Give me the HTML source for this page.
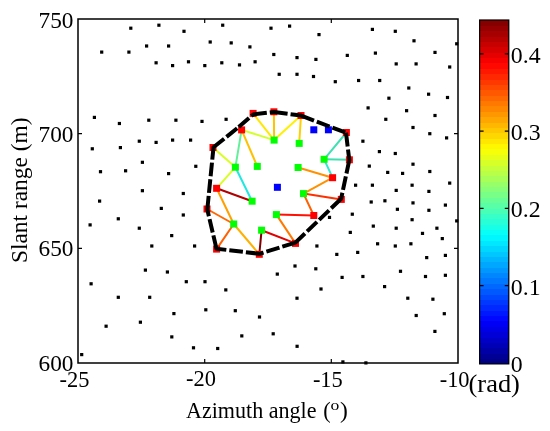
<!DOCTYPE html>
<html><head><meta charset="utf-8"><title>plot</title>
<style>
html,body{margin:0;padding:0;background:#fff;}
svg{display:block}
text{font-family:"Liberation Serif",serif;fill:#000}
</style></head><body>
<svg width="550" height="431" viewBox="0 0 550 431">
<rect x="0" y="0" width="550" height="431" fill="#fff"/>

<g shape-rendering="crispEdges">
<rect x="479.6" y="358.53" width="29.2" height="5.87" fill="#000087"/>
<rect x="479.6" y="353.15" width="29.2" height="5.87" fill="#000097"/>
<rect x="479.6" y="347.78" width="29.2" height="5.87" fill="#0000a7"/>
<rect x="479.6" y="342.41" width="29.2" height="5.87" fill="#0000b7"/>
<rect x="479.6" y="337.03" width="29.2" height="5.87" fill="#0000c7"/>
<rect x="479.6" y="331.66" width="29.2" height="5.87" fill="#0000d7"/>
<rect x="479.6" y="326.29" width="29.2" height="5.87" fill="#0000e7"/>
<rect x="479.6" y="320.91" width="29.2" height="5.87" fill="#0000f7"/>
<rect x="479.6" y="315.54" width="29.2" height="5.87" fill="#0008ff"/>
<rect x="479.6" y="310.17" width="29.2" height="5.87" fill="#0018ff"/>
<rect x="479.6" y="304.79" width="29.2" height="5.87" fill="#0028ff"/>
<rect x="479.6" y="299.42" width="29.2" height="5.87" fill="#0038ff"/>
<rect x="479.6" y="294.05" width="29.2" height="5.87" fill="#0048ff"/>
<rect x="479.6" y="288.67" width="29.2" height="5.87" fill="#0058ff"/>
<rect x="479.6" y="283.30" width="29.2" height="5.87" fill="#0068ff"/>
<rect x="479.6" y="277.92" width="29.2" height="5.87" fill="#0078ff"/>
<rect x="479.6" y="272.55" width="29.2" height="5.87" fill="#0087ff"/>
<rect x="479.6" y="267.18" width="29.2" height="5.87" fill="#0097ff"/>
<rect x="479.6" y="261.80" width="29.2" height="5.87" fill="#00a7ff"/>
<rect x="479.6" y="256.43" width="29.2" height="5.87" fill="#00b7ff"/>
<rect x="479.6" y="251.06" width="29.2" height="5.87" fill="#00c7ff"/>
<rect x="479.6" y="245.68" width="29.2" height="5.87" fill="#00d7ff"/>
<rect x="479.6" y="240.31" width="29.2" height="5.87" fill="#00e7ff"/>
<rect x="479.6" y="234.94" width="29.2" height="5.87" fill="#00f7ff"/>
<rect x="479.6" y="229.56" width="29.2" height="5.87" fill="#08fff7"/>
<rect x="479.6" y="224.19" width="29.2" height="5.87" fill="#18ffe7"/>
<rect x="479.6" y="218.82" width="29.2" height="5.87" fill="#28ffd7"/>
<rect x="479.6" y="213.44" width="29.2" height="5.87" fill="#38ffc7"/>
<rect x="479.6" y="208.07" width="29.2" height="5.87" fill="#48ffb7"/>
<rect x="479.6" y="202.70" width="29.2" height="5.87" fill="#58ffa7"/>
<rect x="479.6" y="197.32" width="29.2" height="5.87" fill="#68ff97"/>
<rect x="479.6" y="191.95" width="29.2" height="5.87" fill="#78ff87"/>
<rect x="479.6" y="186.58" width="29.2" height="5.87" fill="#87ff78"/>
<rect x="479.6" y="181.20" width="29.2" height="5.87" fill="#97ff68"/>
<rect x="479.6" y="175.83" width="29.2" height="5.87" fill="#a7ff58"/>
<rect x="479.6" y="170.46" width="29.2" height="5.87" fill="#b7ff48"/>
<rect x="479.6" y="165.08" width="29.2" height="5.87" fill="#c7ff38"/>
<rect x="479.6" y="159.71" width="29.2" height="5.87" fill="#d7ff28"/>
<rect x="479.6" y="154.34" width="29.2" height="5.87" fill="#e7ff18"/>
<rect x="479.6" y="148.96" width="29.2" height="5.87" fill="#f7ff08"/>
<rect x="479.6" y="143.59" width="29.2" height="5.87" fill="#fff700"/>
<rect x="479.6" y="138.22" width="29.2" height="5.87" fill="#ffe700"/>
<rect x="479.6" y="132.84" width="29.2" height="5.87" fill="#ffd700"/>
<rect x="479.6" y="127.47" width="29.2" height="5.87" fill="#ffc700"/>
<rect x="479.6" y="122.10" width="29.2" height="5.87" fill="#ffb700"/>
<rect x="479.6" y="116.72" width="29.2" height="5.87" fill="#ffa700"/>
<rect x="479.6" y="111.35" width="29.2" height="5.87" fill="#ff9700"/>
<rect x="479.6" y="105.98" width="29.2" height="5.87" fill="#ff8700"/>
<rect x="479.6" y="100.60" width="29.2" height="5.87" fill="#ff7800"/>
<rect x="479.6" y="95.23" width="29.2" height="5.87" fill="#ff6800"/>
<rect x="479.6" y="89.85" width="29.2" height="5.87" fill="#ff5800"/>
<rect x="479.6" y="84.48" width="29.2" height="5.87" fill="#ff4800"/>
<rect x="479.6" y="79.11" width="29.2" height="5.87" fill="#ff3800"/>
<rect x="479.6" y="73.73" width="29.2" height="5.87" fill="#ff2800"/>
<rect x="479.6" y="68.36" width="29.2" height="5.87" fill="#ff1800"/>
<rect x="479.6" y="62.99" width="29.2" height="5.87" fill="#ff0800"/>
<rect x="479.6" y="57.61" width="29.2" height="5.87" fill="#f70000"/>
<rect x="479.6" y="52.24" width="29.2" height="5.87" fill="#e70000"/>
<rect x="479.6" y="46.87" width="29.2" height="5.87" fill="#d70000"/>
<rect x="479.6" y="41.49" width="29.2" height="5.87" fill="#c70000"/>
<rect x="479.6" y="36.12" width="29.2" height="5.87" fill="#b70000"/>
<rect x="479.6" y="30.75" width="29.2" height="5.87" fill="#a70000"/>
<rect x="479.6" y="25.37" width="29.2" height="5.87" fill="#970000"/>
<rect x="479.6" y="20.00" width="29.2" height="5.87" fill="#870000"/>
</g>
<rect x="479.6" y="20.0" width="29.2" height="343.9" fill="none" stroke="#000" stroke-width="1.2"/>
<path d="M479.6 285.7h4M508.8 285.7h-4" stroke="#000" stroke-width="1.2"/>
<path d="M479.6 208.4h4M508.8 208.4h-4" stroke="#000" stroke-width="1.2"/>
<path d="M479.6 131.1h4M508.8 131.1h-4" stroke="#000" stroke-width="1.2"/>
<path d="M479.6 53.8h4M508.8 53.8h-4" stroke="#000" stroke-width="1.2"/>
<rect x="78.0" y="19.0" width="380.0" height="344.0" fill="none" stroke="#000" stroke-width="1.5"/>
<path d="M204.7 363.0v-4M204.7 19.0v4" stroke="#000" stroke-width="1.2"/>
<path d="M331.3 363.0v-4M331.3 19.0v4" stroke="#000" stroke-width="1.2"/>
<path d="M78.0 133.7h4M458.0 133.7h-4" stroke="#000" stroke-width="1.2"/>
<path d="M78.0 248.3h4M458.0 248.3h-4" stroke="#000" stroke-width="1.2"/>
<text transform="translate(38.58,27.74) scale(1.0130,1)" font-size="23.00">750</text>
<text transform="translate(38.58,141.90) scale(1.0130,1)" font-size="23.00">700</text>
<text transform="translate(38.58,255.84) scale(1.0130,1)" font-size="23.00">650</text>
<text transform="translate(38.58,370.64) scale(1.0130,1)" font-size="23.00">600</text>
<text transform="translate(59.58,386.54) scale(0.9650,1)" font-size="23.25">-25</text>
<text transform="translate(186.08,386.42) scale(0.9650,1)" font-size="23.25">-20</text>
<text transform="translate(312.88,386.66) scale(0.9650,1)" font-size="23.25">-15</text>
<text transform="translate(439.68,386.54) scale(0.9650,1)" font-size="23.25">-10</text>
<text transform="translate(510.85,371.86) scale(1.0400,1)" font-size="22.90">0</text>
<text transform="translate(510.85,294.73) scale(1.0400,1)" font-size="22.90">0.1</text>
<text transform="translate(510.85,217.36) scale(1.0400,1)" font-size="22.90">0.2</text>
<text transform="translate(510.85,140.11) scale(1.0400,1)" font-size="22.90">0.3</text>
<text transform="translate(510.85,62.86) scale(1.0400,1)" font-size="22.90">0.4</text>
<text transform="translate(468.54,392.32) scale(1.0130,1)" font-size="26.11">(rad)</text>
<text transform="translate(185.98,417.90) scale(0.9462,1)" font-size="23.33">Azimuth angle</text>
<text transform="translate(323.31,418.09) scale(0.9746,1)" font-size="22.89">(</text>
<text transform="translate(330.60,410.15) scale(1.1429,1)" font-size="15.42">o</text>
<text transform="translate(339.90,418.09) scale(1.0250,1)" font-size="22.89">)</text>
<text transform="translate(26.98,263.04) rotate(-90) scale(0.9990,1)" font-size="23.44">Slant range (m)</text>
<g fill="#000">
<rect x="129.2" y="26.6" width="3.2" height="3.2"/>
<rect x="157.3" y="23.6" width="3.2" height="3.2"/>
<rect x="182.4" y="29.7" width="3.2" height="3.2"/>
<rect x="145.0" y="44.4" width="3.2" height="3.2"/>
<rect x="167.0" y="44.4" width="3.2" height="3.2"/>
<rect x="100.1" y="50.5" width="3.2" height="3.2"/>
<rect x="127.3" y="50.5" width="3.2" height="3.2"/>
<rect x="154.5" y="61.2" width="3.2" height="3.2"/>
<rect x="171.0" y="64.0" width="3.2" height="3.2"/>
<rect x="186.9" y="60.2" width="3.2" height="3.2"/>
<rect x="203.2" y="64.0" width="3.2" height="3.2"/>
<rect x="221.1" y="23.6" width="3.2" height="3.2"/>
<rect x="269.4" y="26.6" width="3.2" height="3.2"/>
<rect x="288.0" y="24.5" width="3.2" height="3.2"/>
<rect x="317.4" y="33.0" width="3.2" height="3.2"/>
<rect x="208.6" y="40.4" width="3.2" height="3.2"/>
<rect x="229.6" y="41.3" width="3.2" height="3.2"/>
<rect x="248.3" y="45.3" width="3.2" height="3.2"/>
<rect x="272.2" y="52.9" width="3.2" height="3.2"/>
<rect x="295.4" y="56.0" width="3.2" height="3.2"/>
<rect x="314.3" y="57.8" width="3.2" height="3.2"/>
<rect x="220.2" y="61.2" width="3.2" height="3.2"/>
<rect x="237.9" y="63.3" width="3.2" height="3.2"/>
<rect x="253.5" y="60.2" width="3.2" height="3.2"/>
<rect x="277.6" y="72.7" width="3.2" height="3.2"/>
<rect x="295.4" y="72.7" width="3.2" height="3.2"/>
<rect x="311.9" y="74.9" width="3.2" height="3.2"/>
<rect x="333.7" y="80.1" width="3.2" height="3.2"/>
<rect x="370.8" y="27.8" width="3.2" height="3.2"/>
<rect x="393.7" y="29.7" width="3.2" height="3.2"/>
<rect x="412.4" y="39.2" width="3.2" height="3.2"/>
<rect x="455.1" y="42.2" width="3.2" height="3.2"/>
<rect x="345.7" y="53.8" width="3.2" height="3.2"/>
<rect x="373.8" y="51.5" width="3.2" height="3.2"/>
<rect x="433.4" y="50.8" width="3.2" height="3.2"/>
<rect x="394.6" y="62.3" width="3.2" height="3.2"/>
<rect x="414.5" y="62.3" width="3.2" height="3.2"/>
<rect x="448.1" y="65.4" width="3.2" height="3.2"/>
<rect x="357.0" y="78.9" width="3.2" height="3.2"/>
<rect x="378.1" y="78.9" width="3.2" height="3.2"/>
<rect x="407.2" y="86.4" width="3.2" height="3.2"/>
<rect x="427.0" y="92.6" width="3.2" height="3.2"/>
<rect x="445.9" y="95.9" width="3.2" height="3.2"/>
<rect x="387.3" y="96.6" width="3.2" height="3.2"/>
<rect x="366.5" y="106.3" width="3.2" height="3.2"/>
<rect x="405.0" y="109.1" width="3.2" height="3.2"/>
<rect x="433.4" y="113.9" width="3.2" height="3.2"/>
<rect x="92.8" y="115.8" width="3.2" height="3.2"/>
<rect x="117.8" y="121.9" width="3.2" height="3.2"/>
<rect x="147.2" y="118.6" width="3.2" height="3.2"/>
<rect x="174.3" y="118.6" width="3.2" height="3.2"/>
<rect x="200.4" y="119.8" width="3.2" height="3.2"/>
<rect x="137.7" y="139.6" width="3.2" height="3.2"/>
<rect x="154.5" y="140.8" width="3.2" height="3.2"/>
<rect x="171.0" y="138.5" width="3.2" height="3.2"/>
<rect x="189.0" y="138.5" width="3.2" height="3.2"/>
<rect x="90.7" y="147.2" width="3.2" height="3.2"/>
<rect x="118.8" y="146.0" width="3.2" height="3.2"/>
<rect x="140.8" y="160.7" width="3.2" height="3.2"/>
<rect x="98.9" y="170.1" width="3.2" height="3.2"/>
<rect x="124.0" y="169.2" width="3.2" height="3.2"/>
<rect x="167.0" y="172.0" width="3.2" height="3.2"/>
<rect x="194.2" y="164.7" width="3.2" height="3.2"/>
<rect x="140.8" y="189.1" width="3.2" height="3.2"/>
<rect x="181.7" y="191.9" width="3.2" height="3.2"/>
<rect x="98.0" y="199.5" width="3.2" height="3.2"/>
<rect x="159.7" y="206.8" width="3.2" height="3.2"/>
<rect x="181.7" y="213.4" width="3.2" height="3.2"/>
<rect x="224.5" y="117.7" width="3.2" height="3.2"/>
<rect x="384.2" y="117.7" width="3.2" height="3.2"/>
<rect x="411.4" y="125.9" width="3.2" height="3.2"/>
<rect x="428.2" y="132.1" width="3.2" height="3.2"/>
<rect x="445.0" y="136.3" width="3.2" height="3.2"/>
<rect x="361.3" y="139.6" width="3.2" height="3.2"/>
<rect x="377.8" y="150.0" width="3.2" height="3.2"/>
<rect x="393.7" y="151.9" width="3.2" height="3.2"/>
<rect x="411.4" y="162.6" width="3.2" height="3.2"/>
<rect x="367.7" y="164.5" width="3.2" height="3.2"/>
<rect x="386.1" y="170.8" width="3.2" height="3.2"/>
<rect x="401.0" y="171.8" width="3.2" height="3.2"/>
<rect x="428.2" y="169.9" width="3.2" height="3.2"/>
<rect x="448.1" y="181.5" width="3.2" height="3.2"/>
<rect x="354.0" y="183.6" width="3.2" height="3.2"/>
<rect x="370.8" y="183.6" width="3.2" height="3.2"/>
<rect x="410.5" y="183.6" width="3.2" height="3.2"/>
<rect x="394.6" y="188.8" width="3.2" height="3.2"/>
<rect x="427.3" y="189.8" width="3.2" height="3.2"/>
<rect x="369.6" y="200.4" width="3.2" height="3.2"/>
<rect x="383.3" y="199.2" width="3.2" height="3.2"/>
<rect x="411.4" y="201.3" width="3.2" height="3.2"/>
<rect x="443.8" y="203.5" width="3.2" height="3.2"/>
<rect x="395.8" y="207.7" width="3.2" height="3.2"/>
<rect x="427.3" y="208.7" width="3.2" height="3.2"/>
<rect x="350.7" y="212.6" width="3.2" height="3.2"/>
<rect x="327.9" y="215.8" width="3.2" height="3.2"/>
<rect x="348.7" y="230.8" width="3.2" height="3.2"/>
<rect x="315.3" y="244.4" width="3.2" height="3.2"/>
<rect x="335.2" y="252.8" width="3.2" height="3.2"/>
<rect x="356.1" y="250.8" width="3.2" height="3.2"/>
<rect x="293.4" y="264.4" width="3.2" height="3.2"/>
<rect x="314.2" y="267.2" width="3.2" height="3.2"/>
<rect x="116.7" y="217.2" width="3.2" height="3.2"/>
<rect x="88.5" y="223.3" width="3.2" height="3.2"/>
<rect x="137.7" y="226.6" width="3.2" height="3.2"/>
<rect x="170.1" y="234.0" width="3.2" height="3.2"/>
<rect x="150.2" y="244.4" width="3.2" height="3.2"/>
<rect x="193.0" y="244.4" width="3.2" height="3.2"/>
<rect x="143.8" y="268.5" width="3.2" height="3.2"/>
<rect x="165.8" y="270.4" width="3.2" height="3.2"/>
<rect x="89.5" y="282.2" width="3.2" height="3.2"/>
<rect x="184.7" y="280.1" width="3.2" height="3.2"/>
<rect x="203.4" y="280.1" width="3.2" height="3.2"/>
<rect x="116.7" y="295.7" width="3.2" height="3.2"/>
<rect x="148.1" y="295.7" width="3.2" height="3.2"/>
<rect x="172.3" y="312.0" width="3.2" height="3.2"/>
<rect x="204.2" y="308.2" width="3.2" height="3.2"/>
<rect x="275.7" y="272.5" width="3.2" height="3.2"/>
<rect x="224.2" y="288.3" width="3.2" height="3.2"/>
<rect x="319.4" y="287.4" width="3.2" height="3.2"/>
<rect x="295.4" y="296.6" width="3.2" height="3.2"/>
<rect x="233.7" y="309.1" width="3.2" height="3.2"/>
<rect x="410.5" y="218.1" width="3.2" height="3.2"/>
<rect x="455.1" y="219.3" width="3.2" height="3.2"/>
<rect x="371.7" y="224.5" width="3.2" height="3.2"/>
<rect x="394.6" y="226.6" width="3.2" height="3.2"/>
<rect x="435.3" y="226.6" width="3.2" height="3.2"/>
<rect x="420.9" y="231.8" width="3.2" height="3.2"/>
<rect x="440.7" y="237.0" width="3.2" height="3.2"/>
<rect x="376.0" y="242.2" width="3.2" height="3.2"/>
<rect x="393.7" y="244.4" width="3.2" height="3.2"/>
<rect x="409.3" y="242.2" width="3.2" height="3.2"/>
<rect x="425.1" y="256.0" width="3.2" height="3.2"/>
<rect x="443.8" y="253.8" width="3.2" height="3.2"/>
<rect x="398.9" y="269.7" width="3.2" height="3.2"/>
<rect x="340.5" y="275.8" width="3.2" height="3.2"/>
<rect x="361.3" y="274.9" width="3.2" height="3.2"/>
<rect x="423.9" y="274.9" width="3.2" height="3.2"/>
<rect x="443.8" y="273.7" width="3.2" height="3.2"/>
<rect x="383.0" y="285.0" width="3.2" height="3.2"/>
<rect x="406.2" y="296.6" width="3.2" height="3.2"/>
<rect x="431.3" y="297.6" width="3.2" height="3.2"/>
<rect x="442.7" y="312.1" width="3.2" height="3.2"/>
<rect x="414.6" y="313.9" width="3.2" height="3.2"/>
<rect x="104.5" y="324.6" width="3.2" height="3.2"/>
<rect x="138.8" y="320.6" width="3.2" height="3.2"/>
<rect x="170.2" y="335.3" width="3.2" height="3.2"/>
<rect x="80.1" y="353.0" width="3.2" height="3.2"/>
<rect x="257.9" y="315.4" width="3.2" height="3.2"/>
<rect x="240.2" y="334.3" width="3.2" height="3.2"/>
<rect x="271.6" y="332.2" width="3.2" height="3.2"/>
<rect x="191.9" y="346.2" width="3.2" height="3.2"/>
<rect x="216.1" y="346.9" width="3.2" height="3.2"/>
<rect x="295.5" y="344.7" width="3.2" height="3.2"/>
<rect x="433.3" y="329.8" width="3.2" height="3.2"/>
<rect x="341.3" y="360.3" width="3.2" height="3.2"/>
<rect x="364.3" y="361.3" width="3.2" height="3.2"/>
</g>
<g stroke-width="2" stroke-linecap="butt" fill="none">
<line x1="253.1" y1="113.4" x2="274.1" y2="140.1" stroke="#ffe800"/>
<line x1="273.9" y1="111.8" x2="274.1" y2="140.1" stroke="#ffc400"/>
<line x1="301.0" y1="115.5" x2="274.1" y2="140.1" stroke="#fff000"/>
<line x1="241.6" y1="129.9" x2="274.1" y2="140.1" stroke="#d4ff28"/>
<line x1="301.0" y1="115.5" x2="299.2" y2="143.4" stroke="#ffd000"/>
<line x1="241.6" y1="129.9" x2="235.4" y2="167.2" stroke="#64f09a"/>
<line x1="241.6" y1="129.9" x2="257.3" y2="166.4" stroke="#ffc000"/>
<line x1="213.0" y1="147.5" x2="235.4" y2="167.2" stroke="#d8ff24"/>
<line x1="235.4" y1="167.2" x2="216.6" y2="188.3" stroke="#d8ff24"/>
<line x1="235.4" y1="167.2" x2="252.1" y2="201.2" stroke="#20e8e0"/>
<line x1="216.6" y1="188.3" x2="252.1" y2="201.2" stroke="#b00000"/>
<line x1="216.6" y1="188.3" x2="233.7" y2="224.0" stroke="#ffa000"/>
<line x1="207.0" y1="209.0" x2="233.7" y2="224.0" stroke="#ff6800"/>
<line x1="233.7" y1="224.0" x2="216.6" y2="249.1" stroke="#ff6000"/>
<line x1="233.7" y1="224.0" x2="259.3" y2="254.3" stroke="#ffb000"/>
<line x1="261.6" y1="230.2" x2="259.3" y2="254.3" stroke="#800000"/>
<line x1="261.6" y1="230.2" x2="295.5" y2="243.4" stroke="#e00000"/>
<line x1="276.4" y1="214.6" x2="295.5" y2="243.4" stroke="#ff7800"/>
<line x1="276.4" y1="214.6" x2="313.8" y2="215.5" stroke="#ff1000"/>
<line x1="303.5" y1="193.6" x2="313.8" y2="215.5" stroke="#ff6000"/>
<line x1="303.5" y1="193.6" x2="341.3" y2="199.4" stroke="#ff3000"/>
<line x1="303.5" y1="193.6" x2="332.6" y2="177.7" stroke="#ff9000"/>
<line x1="298.1" y1="167.5" x2="332.6" y2="177.7" stroke="#ff9000"/>
<line x1="324.1" y1="159.3" x2="332.6" y2="177.7" stroke="#30e8d0"/>
<line x1="324.1" y1="159.3" x2="346.4" y2="132.5" stroke="#40e0b0"/>
<line x1="324.1" y1="159.3" x2="349.4" y2="159.8" stroke="#40e0b0"/>
</g>
<g fill="#ff0000">
<rect x="249.6" y="109.9" width="7" height="7"/>
<rect x="270.4" y="108.3" width="7" height="7"/>
<rect x="297.5" y="112.0" width="7" height="7"/>
<rect x="342.9" y="129.0" width="7" height="7"/>
<rect x="345.9" y="156.3" width="7" height="7"/>
<rect x="337.8" y="195.9" width="7" height="7"/>
<rect x="292.0" y="239.9" width="7" height="7"/>
<rect x="255.8" y="250.8" width="7" height="7"/>
<rect x="213.1" y="245.6" width="7" height="7"/>
<rect x="203.5" y="205.5" width="7" height="7"/>
<rect x="209.5" y="144.0" width="7" height="7"/>
<rect x="238.1" y="126.4" width="7" height="7"/>
<rect x="213.1" y="184.8" width="7" height="7"/>
<rect x="329.1" y="174.2" width="7" height="7"/>
<rect x="310.3" y="212.0" width="7" height="7"/>
</g>
<g fill="#00ff00">
<rect x="270.6" y="136.6" width="7" height="7"/>
<rect x="295.7" y="139.9" width="7" height="7"/>
<rect x="231.9" y="163.7" width="7" height="7"/>
<rect x="253.8" y="162.9" width="7" height="7"/>
<rect x="294.6" y="164.0" width="7" height="7"/>
<rect x="320.6" y="155.8" width="7" height="7"/>
<rect x="248.6" y="197.7" width="7" height="7"/>
<rect x="300.0" y="190.1" width="7" height="7"/>
<rect x="272.9" y="211.1" width="7" height="7"/>
<rect x="230.2" y="220.5" width="7" height="7"/>
<rect x="258.1" y="226.7" width="7" height="7"/>
</g>
<g fill="#0000ff">
<rect x="310.3" y="126.3" width="7" height="7"/>
<rect x="324.9" y="126.3" width="7" height="7"/>
<rect x="273.9" y="183.8" width="7" height="7"/>
</g>
<path d="M213.5 147.3 L238.7 127.0 L253.2 114.4 L274.0 112.0 L301.2 115.6 L346.0 132.8 L349.3 160.1 L341.1 198.8 L295.4 242.6 L259.5 253.8 L216.5 248.7 L207.3 209.5 Z" fill="none" stroke="#000" stroke-width="4" stroke-linejoin="round" stroke-dasharray="13.70 3.00 13.70 1.96 13.70 3.00 16.21 3.00 17.94 3.00 24.44 3.00 13.70 3.00 13.70 0.89 13.70 3.00 24.50 3.00 13.70 3.00 19.86 3.00 13.70 3.00 13.70 3.00 26.90 3.00 13.70 3.00 17.91 3.00 13.70 3.00 23.60 3.00 13.70 3.00 20.57 3.00 13.70 3.00 13.70 3.00 12.41 0.01"/>
</svg></body></html>
